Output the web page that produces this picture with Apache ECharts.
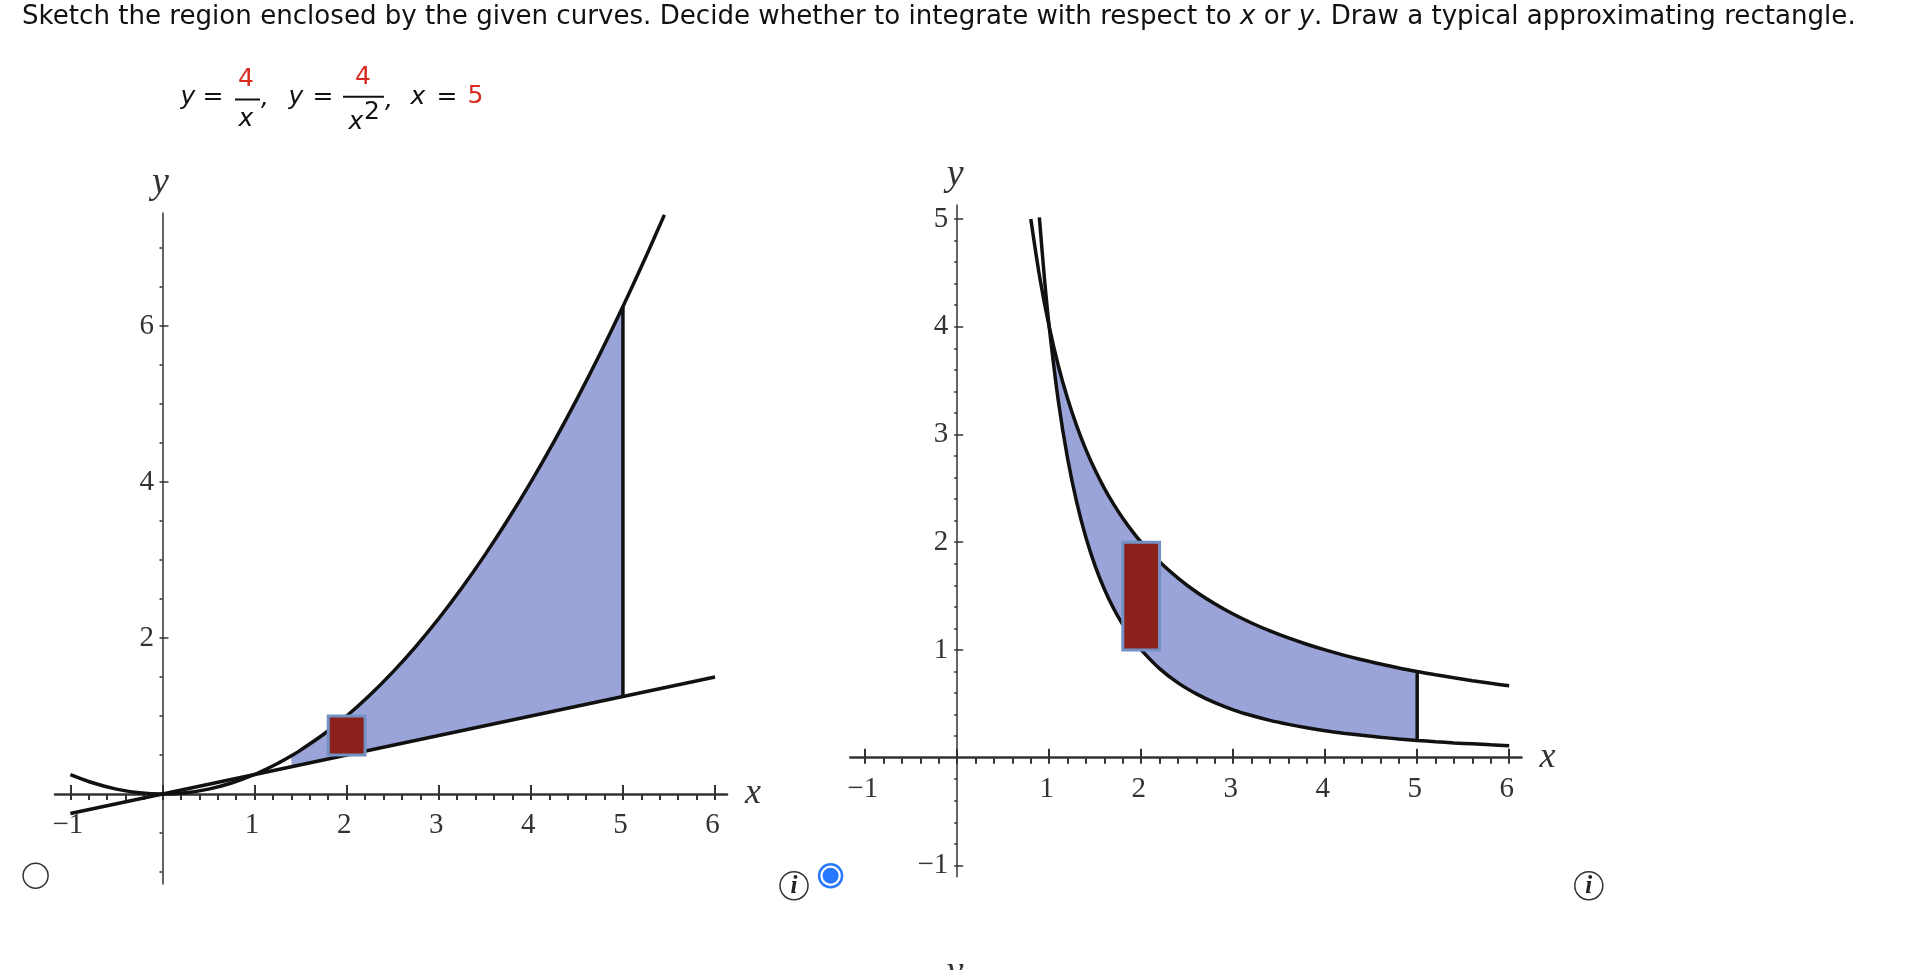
<!DOCTYPE html>
<html>
<head>
<meta charset="utf-8">
<style>html,body{margin:0;padding:0;background:#fff;overflow:hidden}#main{width:1930px;height:970px}</style>
<script src="https://cdn.jsdelivr.net/npm/echarts@6/dist/echarts.min.js"></script>
</head>
<body>
<div id="main"></div>
<script>
// left plot: y = x^2/4 and y = x/4
var parabolaX = [-1,-0.75,-0.5,-0.25,0,0.25,0.5,0.75,1,1.25,1.4,1.5,1.75,2,2.25,2.5,2.75,3,3.25,3.5,3.75,4,4.25,4.5,4.75,5,5.25,5.45];
var parabolaY = [0.25,0.141,0.063,0.016,0,0.016,0.063,0.141,0.25,0.391,0.49,0.563,0.766,1,1.266,1.563,1.891,2.25,2.641,3.063,3.516,4,4.516,5.063,5.641,6.25,6.891,7.426];
var lineX = [-1,1.4,5,6];
var lineY = [-0.25,0.35,1.25,1.5];
var leftEdgeX = [5,5];
var leftEdgeY = [1.25,6.25];
var leftRegionFrom = 1.4, leftRegionTo = 5;
var leftRect = [1.8,2.2,0.5,1];

// right plot: y = 4/x and y = 4/x^2
var hypX = [0.8,0.9,1,1.1,1.2,1.3,1.4,1.5,1.6,1.7,1.8,1.9,2,2.2,2.4,2.6,2.8,3,3.2,3.4,3.6,3.8,4,4.2,4.4,4.6,4.8,5,5.2,5.4,5.6,5.8,6];
var hypY = [5,4.444,4,3.636,3.333,3.077,2.857,2.667,2.5,2.353,2.222,2.105,2,1.818,1.667,1.538,1.429,1.333,1.25,1.176,1.111,1.053,1,0.952,0.909,0.87,0.833,0.8,0.769,0.741,0.714,0.69,0.667];
var invX = [0.893,0.95,1,1.1,1.2,1.3,1.4,1.5,1.6,1.7,1.8,1.9,2,2.2,2.4,2.6,2.8,3,3.2,3.4,3.6,3.8,4,4.2,4.4,4.6,4.8,5,5.2,5.4,5.6,5.8,6];
var invY = [5.016,4.432,4,3.306,2.778,2.367,2.041,1.778,1.563,1.384,1.235,1.108,1,0.826,0.694,0.592,0.51,0.444,0.391,0.346,0.309,0.277,0.25,0.227,0.207,0.189,0.174,0.16,0.148,0.137,0.128,0.119,0.111];
var rightEdgeX = [5,5];
var rightEdgeY = [0.16,0.8];
var rightRegionFrom = 1, rightRegionTo = 5;
var rightRect = [1.8,2.2,1,2];

// ticks
var xMajor = [-1,0,1,2,3,4,5,6];
var xLabels = [-1,1,2,3,4,5,6];
var xMinor = [-1,-0.8,-0.6,-0.4,-0.2,0,0.2,0.4,0.6,0.8,1,1.2,1.4,1.6,1.8,2,2.2,2.4,2.6,2.8,3,3.2,3.4,3.6,3.8,4,4.2,4.4,4.6,4.8,5,5.2,5.4,5.6,5.8,6];
var leftYMajor = [2,4,6];
var leftYMinor = [-1,-0.5,0.5,1,1.5,2,2.5,3,3.5,4,4.5,5,5.5,6,6.5,7];
var rightYMajor = [-1,1,2,3,4,5];
var rightYMinor = [-1,-0.8,-0.6,-0.4,-0.2,0.2,0.4,0.6,0.8,1,1.2,1.4,1.6,1.8,2,2.2,2.4,2.6,2.8,3,3.2,3.4,3.6,3.8,4,4.2,4.4,4.6,4.8,5];

var axisColor = '#333';
var curveColor = '#111';
var fillColor = '#9aa4d8';
var rectFill = '#8a211b';
var rectBorder = '#7391c4';
var red = '#d92b1f';
var serif = '"Liberation Serif", serif';
var sans = '"DejaVu Sans", sans-serif';

function zip(xs, ys) {
	return xs.map(function (x, i) { return [x, ys[i]]; });
}

function tickText(v) {
	return String(v).replace('-', '\u2212');
}

// labels stay at the grid edge, so the margins pull them back to the zero line
function xAxisPair(grid, min, max, margin) {
	var base = { type: 'value', gridIndex: grid, min: min, max: max, splitLine: { show: false } };
	var major = Object.assign({}, base, {
		name: 'x', nameLocation: 'end', nameGap: 18,
		nameTextStyle: { fontFamily: serif, fontStyle: 'italic', fontSize: 36, color: axisColor, padding: [10, 0, 0, 0] },
		axisLine: { onZero: true, lineStyle: { color: axisColor, width: 2.5 } },
		axisTick: { inside: true, length: 9, customValues: xMajor, lineStyle: { color: axisColor, width: 2 } },
		axisLabel: { customValues: xLabels, margin: margin, padding: [0, 5, 0, 0], fontFamily: serif, fontSize: 29, color: axisColor, formatter: tickText }
	});
	var minor = Object.assign({}, base, {
		axisLine: { onZero: true, show: false },
		axisTick: { inside: true, length: 6, customValues: xMinor, lineStyle: { color: axisColor, width: 2 } },
		axisLabel: { show: false }
	});
	return [major, minor];
}

function yAxisPair(grid, min, max, majors, minors, margin) {
	var base = { type: 'value', gridIndex: grid, min: min, max: max, splitLine: { show: false } };
	var major = Object.assign({}, base, {
		name: 'y', nameLocation: 'end', nameGap: 11,
		nameTextStyle: { fontFamily: serif, fontStyle: 'italic', fontSize: 38, color: axisColor, padding: [0, 4, 0, 0] },
		axisLine: { onZero: true, lineStyle: { color: axisColor, width: 1.5 } },
		axisTick: { inside: true, length: 6, customValues: majors, lineStyle: { color: axisColor, width: 1.5 } },
		axisLabel: { customValues: majors, margin: margin, padding: [4, 0, 0, 0], fontFamily: serif, fontSize: 29, color: axisColor, formatter: tickText }
	});
	var minor = Object.assign({}, base, {
		axisLine: { onZero: true, show: false },
		axisTick: { inside: true, length: 3, customValues: minors, lineStyle: { color: axisColor, width: 1.5 } },
		axisLabel: { show: false }
	});
	return [major, minor];
}

function curve(xAxis, yAxis, xs, ys, smooth) {
	return {
		type: 'line', xAxisIndex: xAxis, yAxisIndex: yAxis, data: zip(xs, ys),
		smooth: smooth, symbol: 'none', silent: true, z: 4,
		lineStyle: { color: curveColor, width: 3.5 }
	};
}

// shaded area between the top curve and the bottom curve
function region(xAxis, yAxis, topX, topY, botX, botY, from, to) {
	var inside = function (p) { return p[0] >= from && p[0] <= to; };
	var pts = zip(topX, topY).filter(inside).concat(zip(botX, botY).filter(inside).reverse());
	return {
		type: 'custom', xAxisIndex: xAxis, yAxisIndex: yAxis, silent: true, z: 3, data: pts,
		renderItem: function (params, api) {
			if (params.dataIndex !== 0) return null;
			return {
				type: 'polygon',
				shape: { points: pts.map(function (p) { return api.coord(p); }) },
				style: { fill: fillColor }
			};
		}
	};
}

function rectangle(xAxis, yAxis, r) {
	return {
		type: 'custom', xAxisIndex: xAxis, yAxisIndex: yAxis, silent: true, z: 6,
		data: [r], encode: { x: [0, 1], y: [2, 3] },
		renderItem: function (params, api) {
			var a = api.coord([api.value(0), api.value(3)]);
			var b = api.coord([api.value(1), api.value(2)]);
			return {
				type: 'rect',
				shape: { x: a[0], y: a[1], width: b[0] - a[0], height: b[1] - a[1] },
				style: { fill: rectFill, stroke: rectBorder, lineWidth: 3 }
			};
		}
	};
}

function label(x, y, text, size, color, italic) {
	return {
		type: 'text', x: x, y: y, silent: true,
		style: {
			text: text, fill: color || '#111', align: 'center', verticalAlign: 'middle',
			font: (italic ? 'italic ' : '') + size + 'px ' + sans
		}
	};
}

function bar(x1, x2, y) {
	return { type: 'line', silent: true, shape: { x1: x1, y1: y, x2: x2, y2: y }, style: { stroke: '#111', lineWidth: 2 } };
}

function info(x, y) {
	return [
		{ type: 'circle', silent: true, shape: { cx: x, cy: y, r: 14 }, style: { fill: '#fff', stroke: '#333', lineWidth: 1.5 } },
		{
			type: 'text', x: x, y: y + 1, silent: true,
			style: { text: 'i', fill: '#222', align: 'center', verticalAlign: 'middle', font: 'italic bold 25px ' + serif }
		}
	];
}

var graphics = [
	{
		type: 'text', x: 22, y: 17, silent: true,
		style: {
			text: 'Sketch the region enclosed by the given curves. Decide whether to integrate with respect to {i|x} or {i|y}. Draw a typical approximating rectangle.',
			fill: '#111', verticalAlign: 'middle', font: '26.1px ' + sans,
			rich: { i: { font: 'italic 26.1px ' + sans, fill: '#111' } }
		}
	},
	label(188, 97, 'y', 25, '#111', true),
	label(213, 97, '=', 25),
	label(246, 79, '4', 25, red),
	bar(235, 260, 99.5),
	label(246, 119, 'x', 25, '#111', true),
	label(265, 98, ',', 25, '#111', true),
	label(296, 97, 'y', 25, '#111', true),
	label(323, 97, '=', 25),
	label(363, 77, '4', 25, red),
	bar(343, 384, 96.7),
	label(356, 122, 'x', 25, '#111', true),
	label(372, 112, '2', 25),
	label(389, 100, ',', 25, '#111', true),
	label(418, 97, 'x', 25, '#111', true),
	label(447, 97, '=', 25),
	label(475.5, 96, '5', 25, red),
	// answer choices
	{ type: 'circle', silent: true, shape: { cx: 35.6, cy: 875.7, r: 12.5 }, style: { fill: '#fff', stroke: '#333', lineWidth: 1.5 } },
	{ type: 'circle', silent: true, shape: { cx: 830.6, cy: 875.7, r: 11.5 }, style: { fill: '#fff', stroke: '#2979ff', lineWidth: 2.5 } },
	{ type: 'circle', silent: true, shape: { cx: 830.6, cy: 875.7, r: 8 }, style: { fill: '#2979ff' } },
	{
		type: 'text', x: 955, y: 972, silent: true,
		style: { text: 'y', fill: '#333', align: 'center', verticalAlign: 'middle', font: 'italic 38px ' + serif }
	}
].concat(info(794, 885.7)).concat(info(1588.8, 885.7));

var chart = echarts.init(document.getElementById('main'));
chart.setOption({
	animation: false,
	backgroundColor: '#fff',
	grid: [
		{ left: 55, top: 213, width: 672, height: 671 },
		{ left: 850.3, top: 205, width: 671.2, height: 671.7 }
	],
	xAxis: xAxisPair(0, -1.167, 6.13, -73).concat(xAxisPair(1, -1.162, 6.134, -102)),
	yAxis: yAxisPair(0, -1.154, 7.45, leftYMajor, leftYMinor, -99).concat(yAxisPair(1, -1.105, 5.13, rightYMajor, rightYMinor, -98)),
	series: [
		region(0, 0, parabolaX, parabolaY, lineX, lineY, leftRegionFrom, leftRegionTo),
		curve(0, 0, parabolaX, parabolaY, 0.3),
		curve(0, 0, lineX, lineY, false),
		curve(0, 0, leftEdgeX, leftEdgeY, false),
		rectangle(0, 0, leftRect),
		region(2, 2, hypX, hypY, invX, invY, rightRegionFrom, rightRegionTo),
		curve(2, 2, hypX, hypY, 0.3),
		curve(2, 2, invX, invY, 0.3),
		curve(2, 2, rightEdgeX, rightEdgeY, false),
		rectangle(2, 2, rightRect)
	],
	graphic: graphics
});
</script>
</body>
</html>
